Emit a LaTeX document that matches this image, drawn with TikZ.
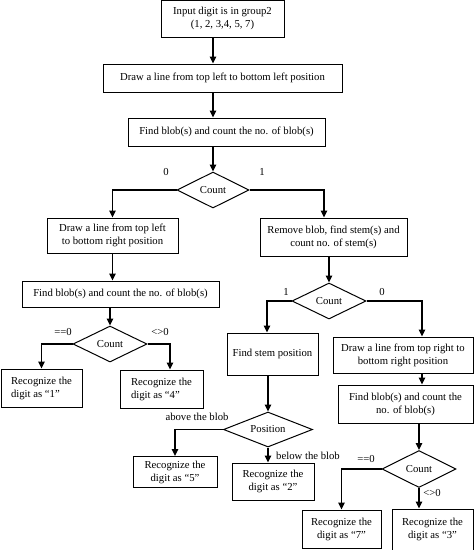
\documentclass[tikz,border=0pt]{standalone}
\usepackage{fontspec}
\setmainfont{Liberation Serif}
\usetikzlibrary{shapes.geometric,arrows.meta}
\begin{document}
\begin{tikzpicture}[x=1pt,y=-1pt,
  every node/.style={font=\fontsize{10.7}{13}\selectfont},
  box/.style={draw,line width=1pt,align=center,inner sep=1pt},
  dia/.style={draw,line width=1pt,diamond,aspect=2,inner sep=0pt},
  lab/.style={inner sep=0pt},
  arr/.style={line width=1.3pt,-{Triangle[length=7pt,width=6.5pt]}}]
\fill[white] (0,0) rectangle (474,550);
\useasboundingbox (0,0) rectangle (474,550);
% main column
\node[box,minimum width=123pt,minimum height=37pt] (b1) at (222.5,18.5) {Input digit is in group2\\(1, 2, 3,4, 5, 7)};
\node[box,minimum width=239pt,minimum height=28pt] (b2) at (222.5,78) {Draw a line from top left to bottom left position};
\node[box,minimum width=197pt,minimum height=28pt] (b3) at (226.5,132) {Find blob(s) and count the no. of blob(s)};
\node[dia,minimum width=72pt,minimum height=36pt] (d1) at (213,190) {Count};
\node[lab] (l0) at (166,172) {0};
\node[lab] (l1) at (262,172) {1};
% left branch
\node[box,minimum width=131pt,minimum height=35pt] (bA) at (112.5,235.5) {Draw a line from top left\\to bottom right position};
\node[box,minimum width=197pt,minimum height=26pt] (bB) at (120.5,294) {Find blob(s) and count the no. of blob(s)};
\node[dia,minimum width=74pt,minimum height=36pt] (d3) at (110,344) {Count};
\node[lab] (leq) at (63,332) {==0};
\node[lab] (lne) at (160,332) {<>0};
\node[box,minimum width=81pt,minimum height=38pt,align=left] (r1) at (41.5,388) {Recognize the\\digit as “1”};
\node[box,minimum width=83pt,minimum height=38pt,align=left] (r4) at (161.5,389) {Recognize the\\digit as “4”};
% right branch
\node[box,minimum width=147pt,minimum height=38pt] (bR) at (333.5,237) {Remove blob, find stem(s) and\\count no. of stem(s)};
\node[dia,minimum width=74pt,minimum height=36pt] (d2) at (329,301) {Count};
\node[lab] (m1) at (286,292) {1};
\node[lab] (m0) at (382,292) {0};
\node[box,minimum width=91pt,minimum height=42pt] (bS) at (272.5,354) {Find stem position};
\node[box,minimum width=140pt,minimum height=36pt] (bT) at (403,355) {Draw a line from top right to\\bottom right position};
\node[box,minimum width=135pt,minimum height=38pt] (bU) at (405.5,404) {Find blob(s) and count the\\no. of blob(s)};
\node[dia,minimum width=89pt,minimum height=35pt] (dP) at (268,429.5) {Position};
\node[lab] (la) at (197,417) {above the blob};
\node[lab] (lb) at (308,456) {below the blob};
\node[box,minimum width=84pt,minimum height=31pt] (r5) at (175,472) {Recognize the\\digit as “5”};
\node[box,minimum width=82pt,minimum height=37pt] (r2) at (273,481.5) {Recognize the\\digit as “2”};
\node[dia,minimum width=74pt,minimum height=37pt] (d4) at (419,469) {Count};
\node[lab] (neq) at (366,459) {==0};
\node[lab] (nne) at (432,493) {<>0};
\node[box,minimum width=79pt,minimum height=38pt] (r7) at (341.5,529) {Recognize the\\digit as “7”};
\node[box,minimum width=81pt,minimum height=41pt] (r3) at (432.5,529.5) {Recognize the\\digit as “3”};
% connectors
\draw[arr] (b1.south -| d1.north) -- (b2.north -| d1.north);
\draw[arr] (b2.south -| d1.north) -- (b3.north -| d1.north);
\draw[arr] (b3.south -| d1.north) -- (d1.north);
\draw[arr] (d1.west) -| (bA.north);
\draw[arr] (d1.east) -| ([xshift=-9.5pt]bR.north);
\draw[arr] (bA.south) -- (bA.south |- bB.north);
\draw[arr] (d3.north |- bB.south) -- (d3.north);
\draw[arr] (d3.west) -| (r1.north);
\draw[arr] (d3.east) -| ([xshift=8.5pt]r4.north);
\draw[arr] (d2.north |- bR.south) -- (d2.north);
\draw[arr] (d2.west) -| ([xshift=-5.5pt]bS.north);
\draw[arr] (d2.east) -| ([xshift=19pt]bT.north);
\draw[arr] ([xshift=19pt]bT.south) -- ([xshift=19pt]bT.south |- bU.north);
\draw[arr] (dP.north |- bS.south) -- (dP.north);
\draw[arr] (dP.west) -| (r5.north);
\draw[arr] (dP.south) -- (dP.south |- r2.north);
\draw[arr] (d4.north |- bU.south) -- (d4.north);
\draw[arr] (d4.west) -| (r7.north);
\draw[arr] (d4.south) -- (d4.south |- r3.north);
\end{tikzpicture}
\end{document}
